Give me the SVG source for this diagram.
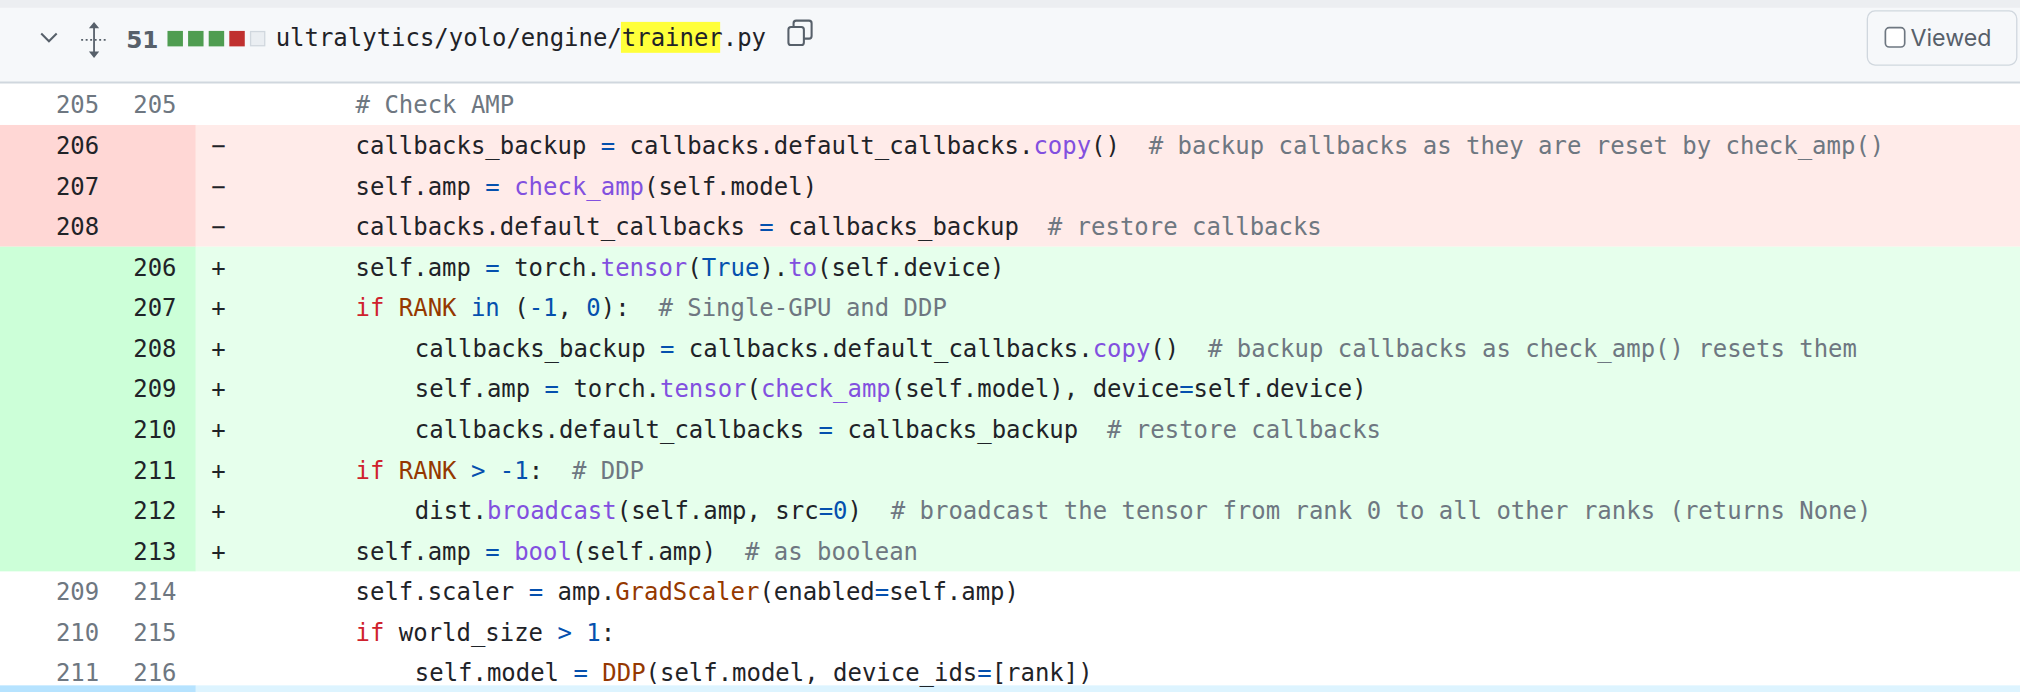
<svg xmlns="http://www.w3.org/2000/svg" width="2020" height="692" viewBox="0 0 2020 692">
<style>
.code{font-family:"DejaVu Sans Mono",monospace;font-size:18.6px;fill:#1f2328}
.ln{font-family:"DejaVu Sans Mono",monospace;font-size:18.6px;fill:#6e7781;text-anchor:end}
.lnd{fill:#1f2328}
.k{fill:#cf222e}.c{fill:#0550ae}.f{fill:#8250df}.o{fill:#953800}.m{fill:#6e7781}
</style>
<rect width="2020" height="692" fill="#ffffff"/>
<g transform="scale(1.28827)">
<g id="header">
<rect x="0" y="0" width="1568" height="64" fill="#f6f8fa"/>
<rect x="0" y="0" width="1568" height="6" fill="#eceef1"/>
<line x1="0" y1="64" x2="1568" y2="64" stroke="#d0d7de" stroke-width="1.5"/>
<path d="M32 26 L38 32 L44 26" fill="none" stroke="#57606a" stroke-width="1.6"/>
<g stroke="#57606a" fill="#57606a">
<path d="M73 20 L73 42" stroke-width="1.4"/>
<path d="M69 22 L73 17 L77 22 Z M69 40 L73 45 L77 40 Z" stroke="none"/>
<path d="M63 31 L83 31" stroke-width="1.4" stroke-dasharray="1.5 2"/>
</g>
<text x="98" y="37" font-family="DejaVu Sans,sans-serif" font-weight="bold" font-size="18" fill="#57606a">51</text>
<rect x="130" y="24" width="12" height="12" fill="#4f9d51"/>
<rect x="146" y="24" width="12" height="12" fill="#4f9d51"/>
<rect x="162" y="24" width="12" height="12" fill="#4f9d51"/>
<rect x="178" y="24" width="12" height="12" fill="#c0302f"/>
<rect x="194.5" y="24.5" width="11" height="11" fill="#eaeef2" stroke="#d0d7de"/>
<rect x="482" y="17" width="77" height="24" fill="#ffff3a"/>
<text x="214" y="36" class="code">ultralytics/yolo/engine/trainer.py</text>
<rect x="612" y="21" width="12" height="14" rx="2" fill="none" stroke="#57606a" stroke-width="1.6"/>
<path d="M616 21 V18 a2 2 0 0 1 2-2 H628 a2 2 0 0 1 2 2 V28 a2 2 0 0 1 -2 2 H624" fill="none" stroke="#57606a" stroke-width="1.6"/>
<rect x="1449.5" y="8.5" width="116" height="42" rx="6" fill="#f6f8fa" stroke="#d0d7de"/>
<rect x="1463.5" y="21.5" width="15" height="15" rx="3" fill="#ffffff" stroke="#6e7781" stroke-width="1.3"/>
<text x="1483" y="36" font-family="Inter,Liberation Sans,sans-serif" font-size="18" fill="#57606a">Viewed</text>
</g>
<g id="backgrounds">
<rect x="0" y="97" width="152" height="94.5" fill="#ffd7d5"/>
<rect x="152" y="97" width="1416" height="94.5" fill="#ffebe9"/>
<rect x="0" y="191.5" width="152" height="252" fill="#ccffd8"/>
<rect x="152" y="191.5" width="1416" height="252" fill="#e6ffec"/>
<rect x="0" y="532" width="152" height="6" fill="#b6e3ff"/>
<rect x="152" y="532" width="1416" height="6" fill="#ddf4ff"/>
</g>
<g id="linenumbers" class="ln">
<text x="77" y="88">205</text><text x="137" y="88">205</text>
<text x="77" y="119.5" class="lnd">206</text>
<text x="77" y="151" class="lnd">207</text>
<text x="77" y="182.5" class="lnd">208</text>
<text x="137" y="214" class="lnd">206</text>
<text x="137" y="245.5" class="lnd">207</text>
<text x="137" y="277" class="lnd">208</text>
<text x="137" y="308.5" class="lnd">209</text>
<text x="137" y="340" class="lnd">210</text>
<text x="137" y="371.5" class="lnd">211</text>
<text x="137" y="403" class="lnd">212</text>
<text x="137" y="434.5" class="lnd">213</text>
<text x="77" y="466">209</text><text x="137" y="466">214</text>
<text x="77" y="497.5">210</text><text x="137" y="497.5">215</text>
<text x="77" y="529">211</text><text x="137" y="529">216</text>
</g>
<g id="code" class="code">
<text x="276" y="88"><tspan class="m"># Check AMP</tspan></text>
<text x="164" y="119.5">−</text>
<text x="164" y="151">−</text>
<text x="164" y="182.5">−</text>
<text x="164" y="214">+</text><text x="164" y="245.5">+</text><text x="164" y="277">+</text><text x="164" y="308.5">+</text><text x="164" y="340">+</text><text x="164" y="371.5">+</text><text x="164" y="403">+</text><text x="164" y="434.5">+</text>
<text x="276" y="119.5">callbacks_backup <tspan class="c">=</tspan> callbacks.default_callbacks.<tspan class="f">copy</tspan>()&#160;&#160;<tspan class="m"># backup callbacks as they are reset by check_amp()</tspan></text>
<text x="276" y="151">self.amp <tspan class="c">=</tspan> <tspan class="f">check_amp</tspan>(self.model)</text>
<text x="276" y="182.5">callbacks.default_callbacks <tspan class="c">=</tspan> callbacks_backup&#160;&#160;<tspan class="m"># restore callbacks</tspan></text>
<text x="276" y="214">self.amp <tspan class="c">=</tspan> torch.<tspan class="f">tensor</tspan>(<tspan class="c">True</tspan>).<tspan class="f">to</tspan>(self.device)</text>
<text x="276" y="245.5"><tspan class="k">if</tspan> <tspan class="o">RANK</tspan> <tspan class="c">in</tspan> (<tspan class="c">-1</tspan>, <tspan class="c">0</tspan>):&#160;&#160;<tspan class="m"># Single-GPU and DDP</tspan></text>
<text x="322" y="277">callbacks_backup <tspan class="c">=</tspan> callbacks.default_callbacks.<tspan class="f">copy</tspan>()&#160;&#160;<tspan class="m"># backup callbacks as check_amp() resets them</tspan></text>
<text x="322" y="308.5">self.amp <tspan class="c">=</tspan> torch.<tspan class="f">tensor</tspan>(<tspan class="f">check_amp</tspan>(self.model), device<tspan class="c">=</tspan>self.device)</text>
<text x="322" y="340">callbacks.default_callbacks <tspan class="c">=</tspan> callbacks_backup&#160;&#160;<tspan class="m"># restore callbacks</tspan></text>
<text x="276" y="371.5"><tspan class="k">if</tspan> <tspan class="o">RANK</tspan> <tspan class="c">&gt;</tspan> <tspan class="c">-1</tspan>:&#160;&#160;<tspan class="m"># DDP</tspan></text>
<text x="322" y="403">dist.<tspan class="f">broadcast</tspan>(self.amp, src<tspan class="c">=0</tspan>)&#160;&#160;<tspan class="m"># broadcast the tensor from rank 0 to all other ranks (returns None)</tspan></text>
<text x="276" y="434.5">self.amp <tspan class="c">=</tspan> <tspan class="f">bool</tspan>(self.amp)&#160;&#160;<tspan class="m"># as boolean</tspan></text>
<text x="276" y="466">self.scaler <tspan class="c">=</tspan> amp.<tspan class="o">GradScaler</tspan>(enabled<tspan class="c">=</tspan>self.amp)</text>
<text x="276" y="497.5"><tspan class="k">if</tspan> world_size <tspan class="c">&gt;</tspan> <tspan class="c">1</tspan>:</text>
<text x="322" y="529">self.model <tspan class="c">=</tspan> <tspan class="o">DDP</tspan>(self.model, device_ids<tspan class="c">=</tspan>[rank])</text>
</g>
</g>
</svg>
